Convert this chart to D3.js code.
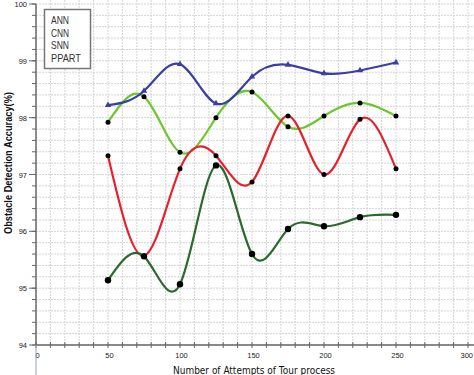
<!DOCTYPE html>
<html><head><meta charset="utf-8">
<script src="https://cdn.jsdelivr.net/npm/d3@7"></script>
<style>
html,body{margin:0;padding:0;background:#fff;}
svg{display:block;}
</style></head>
<body><svg id="c" width="474" height="375"></svg>
<script>
const attempts = [50, 75, 100, 125, 150, 175, 200, 225, 250];
const seriesBlue      = [98.22, 98.47, 98.94, 98.25, 98.72, 98.93, 98.78, 98.83, 98.97];
const seriesLightGreen= [97.92, 98.37, 97.39, 98.00, 98.45, 97.84, 98.03, 98.26, 98.03];
const seriesRed       = [97.33, 95.57, 97.10, 97.33, 96.87, 98.03, 97.00, 97.97, 97.10];
const seriesDarkGreen = [95.14, 95.56, 95.07, 97.16, 95.60, 96.04, 96.09, 96.25, 96.29];
const legendLabels = ["ANN", "CNN", "SNN", "PPART"];
const xTickLabels = [0, 50, 100, 150, 200, 250, 300];
const yTickLabels = [94, 95, 96, 97, 98, 99, 100];

const svg = d3.select("#c");
const x = d3.scaleLinear().domain([0, 250]).range([36, 396]);
const y = d3.scaleLinear().domain([94, 100]).range([345, 4]);
const xEnd = 474;

// grid
const gridY = d3.range(94, 100.001, 0.2);
const gridX = d3.range(10, 310, 10);
const g = svg.append("g");
g.selectAll("line.gy").data(gridY).enter().append("line")
  .attr("x1", 36).attr("x2", xEnd).attr("y1", d => y(d)).attr("y2", d => y(d))
  .attr("stroke", "#d4d4d4").attr("stroke-width", 1).attr("stroke-dasharray", "2,1");
g.selectAll("line.gx").data(gridX).enter().append("line")
  .attr("y1", 0).attr("y2", 345).attr("x1", d => x(d)).attr("x2", d => x(d))
  .attr("stroke", "#d4d4d4").attr("stroke-width", 1).attr("stroke-dasharray", "2,1");

// axes
const yAxis = svg.append("g");
yAxis.append("line").attr("x1", 36).attr("x2", 36).attr("y1", y(100)).attr("y2", 345)
  .attr("stroke", "#666").attr("stroke-width", 1.5);
yAxis.selectAll("line.mn").data(gridY).enter().append("line")
  .attr("x1", 32).attr("x2", 36).attr("y1", d => y(d)).attr("y2", d => y(d))
  .attr("stroke", "#666").attr("stroke-width", 1);
yAxis.selectAll("line.mj").data(yTickLabels).enter().append("line")
  .attr("x1", 29).attr("x2", 36).attr("y1", d => y(d)).attr("y2", d => y(d))
  .attr("stroke", "#666").attr("stroke-width", 1);
yAxis.selectAll("text").data(yTickLabels).enter().append("text")
  .attr("x", 27).attr("y", d => y(d) + 3).attr("text-anchor", "end")
  .attr("font-family", "Liberation Sans").attr("font-size", 7.5).attr("fill", "#222")
  .text(d => d);

const xAxis = svg.append("g");
xAxis.append("line").attr("x1", 36).attr("x2", xEnd).attr("y1", 345).attr("y2", 345)
  .attr("stroke", "#666").attr("stroke-width", 1.5);
xAxis.selectAll("line.mn").data(d3.range(0, 310, 10)).enter().append("line")
  .attr("x1", d => x(d)).attr("x2", d => x(d)).attr("y1", 342).attr("y2", 348)
  .attr("stroke", "#666").attr("stroke-width", 1);
const lastX = xTickLabels[xTickLabels.length - 1];
xAxis.selectAll("text").data(xTickLabels).enter().append("text")
  .attr("x", d => d === lastX ? xEnd - 1 : x(d) + 1.5).attr("y", 358)
  .attr("text-anchor", d => d === lastX ? "end" : "middle")
  .attr("font-family", "Liberation Sans").attr("font-size", 7.5).attr("fill", "#222")
  .text(d => d);
svg.append("line").attr("x1", 36).attr("x2", 36).attr("y1", 345).attr("y2", 375)
  .attr("stroke", "#9a9ad0").attr("stroke-width", 1);

svg.append("text").attr("x", 254).attr("y", 374).attr("text-anchor", "middle")
  .attr("font-family", "DejaVu Sans").attr("font-size", 10).attr("fill", "#111")
  .attr("textLength", 162).attr("lengthAdjust", "spacingAndGlyphs")
  .text("Number of Attempts of Tour process");
svg.append("text").attr("transform", "translate(12,163) rotate(-90)").attr("text-anchor", "middle")
  .attr("font-family", "Liberation Sans").attr("font-weight", "bold").attr("font-size", 10.5).attr("fill", "#111")
  .attr("textLength", 142).attr("lengthAdjust", "spacingAndGlyphs")
  .text("Obstacle Detection Accuracy(%)");

// series
const series = [
  {vals: seriesBlue, color: "#3b3fa3", marker: "tri"},
  {vals: seriesLightGreen, color: "#6cc72e", marker: "dot", r: 2.5},
  {vals: seriesRed, color: "#e8202c", marker: "dot", r: 2.5},
  {vals: seriesDarkGreen, color: "#2b6a2e", marker: "dot", r: 3.2}
];
const line = d3.line().x((d, i) => x(attempts[i])).y(d => y(d)).curve(d3.curveNatural);
const lines = svg.append("g");
[1, 2, 3, 0].forEach(k => {
  const s = series[k];
  lines.append("path").attr("d", line(s.vals)).attr("fill", "none")
    .attr("stroke", s.color).attr("stroke-width", 2.2);
});
series.forEach(s => {
  if (s.marker === "dot") {
    lines.selectAll(null).data(s.vals).enter().append("circle")
      .attr("cx", (d, i) => x(attempts[i])).attr("cy", d => y(d)).attr("r", s.r).attr("fill", "#000");
  } else {
    lines.selectAll(null).data(s.vals).enter().append("path")
      .attr("d", d3.symbol().type(d3.symbolTriangle).size(18))
      .attr("transform", (d, i) => `translate(${x(attempts[i])},${y(d)})`).attr("fill", s.color);
  }
});

// legend
const lg = svg.append("g");
lg.append("rect").attr("x", 44.5).attr("y", 9.5).attr("width", 46).attr("height", 59)
  .attr("fill", "#fff").attr("stroke", "#777").attr("stroke-width", 1.5);
lg.selectAll("text").data(legendLabels).enter().append("text")
  .attr("x", 51).attr("y", (d, i) => 24 + i * 12.7)
  .attr("font-family", "Liberation Sans").attr("font-size", 11.5).attr("fill", "#333")
  .attr("textLength", d => d.length * 6).attr("lengthAdjust", "spacingAndGlyphs")
  .text(d => d);
</script></body></html>
